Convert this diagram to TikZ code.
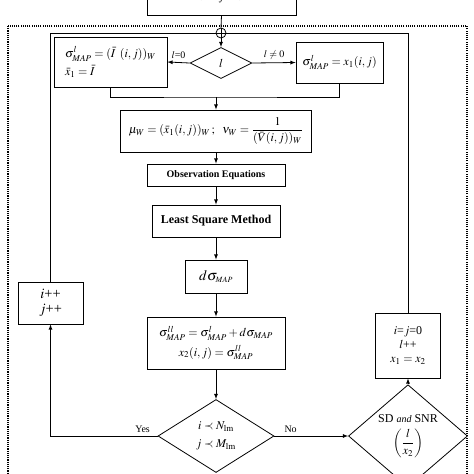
\documentclass[tikz,border=0pt]{standalone}
\usepackage{amsmath}
\usepackage{mathptmx}
\usepackage{fontspec}
\setmainfont{Liberation Serif}
\usepackage{tikz}
\usetikzlibrary{shapes.geometric}
\usetikzlibrary{positioning}
\tikzset{
  Kasten/.style={draw,thick,rectangle,align=center,inner sep=1pt,font=\large}, % Rechtecke
  Raute/.style={draw,thick,diamond,align=center,inner sep=0pt,font=\large}, % Abfragen
  Linie/.style={thick}, % Leitungen ohne Spitze
  Pfeil/.style={thick,->} % Leitungen mit Spitze
}

\begin{document}
\begin{tikzpicture}[
x=1pt,y=-1pt,
font=\rmfamily\upshape,
>=latex % Pfeilspitzen
]
\useasboundingbox (0,0) rectangle (474,474);
\clip (0,0) rectangle (474,474);

%Rahmen
\draw[line width=1.1pt,dash pattern=on 1.1pt off 1.1pt] (8,26) rectangle (467,500);

%Kästen
\node[Kasten,minimum width=149pt,minimum height=34pt] (Start) at (221.5,-2) {$i$ \quad $j$ \quad $l$};
\node[circle,draw,thick,minimum size=10pt,inner sep=0pt] (Summe) at (221,33) {};
\node[Raute,minimum width=62pt,minimum height=31pt] (L) at (221,63) {$l$};
\node[Kasten,minimum width=113pt,minimum height=50pt,align=left] (Init) at (110.5,62)
  {$\sigma^{l}_{MAP}=(\bar{I}\ \,(i,j))_W$\\[4pt] $\bar{x}_1=\bar{I}$};
\node[Kasten,minimum width=87pt,minimum height=41pt] (Alt) at (339.5,62.5) {$\sigma^{l}_{MAP}=x_1(i,j)$};
\node[Kasten,minimum width=191pt,minimum height=42pt] (Mittel) at (216,131)
  {$\mu_W=(\bar{x}_1(i,j))_W\,;\ \ \nu_W=\dfrac{1}{(\bar{V}(i,j))_W}$};
\node[Kasten,minimum width=138pt,minimum height=22pt,font=\normalsize\bfseries] (Beob) at (216,175) {Observation Equations};
\node[Kasten,minimum width=128pt,minimum height=32pt,font=\large\bfseries] (LSM) at (216,221) {Least Square Method};
\node[Kasten,minimum width=62pt,minimum height=33pt,font=\Large] (dSigma) at (216,276.5) {$d\sigma_{\scriptscriptstyle MAP}$};
\node[Kasten,minimum width=138pt,minimum height=52pt] (Neu) at (216,343)
  {$\sigma^{ll}_{MAP}=\sigma^{l}_{MAP}+d\sigma_{MAP}$\\[4pt] $x_2(i,j)=\sigma^{ll}_{MAP}$};
\node[Raute,minimum width=116pt,minimum height=73pt] (Grenze) at (216,436)
  {$i\prec N_{\mathrm{lm}}$\\[4pt] $j\prec M_{\mathrm{lm}}$};
\node[Raute,minimum width=119pt,minimum height=73pt] (SNR) at (408,436)
  {SD {\normalsize\itshape and} SNR\\[5pt] $\left(\dfrac{l}{x_2}\right)$};
\node[Kasten,minimum width=65pt,minimum height=42pt,font=\Large] (Inkr) at (50.5,303) {$i$++\\[-3pt] $j$++};
\node[Kasten,minimum width=65pt,minimum height=65pt] (Reset) at (408,345.5)
  {$i$=$j$=0\\ $l$++\\ $x_1=x_2$};
\coordinate (Knoten) at (216,97);

%Summenpunkt
\draw[Linie] (Summe.north) -- (Summe.south) (Summe.west) -- (Summe.east);

%Leitungen
\draw[Linie] (Start.south) -- (Summe.north);
\draw[Pfeil] (Summe.south) -- (L.north);
\draw[Pfeil] (L.west) -- node[above]{$l$=0} (Init.east);
\draw[Pfeil] (L.east) -- node[above]{$l\neq0$} (Alt.west);
\draw[Linie] (Init.south) |- (Knoten) -| (Alt.south);
\draw[Pfeil] (Knoten) -- (Mittel.north);
\draw[Pfeil] (Mittel) -- (Beob);
\draw[Pfeil] (Beob) -- (LSM);
\draw[Pfeil] (LSM) -- (dSigma);
\draw[Pfeil] (dSigma) -- (Neu);
\draw[Pfeil] (Neu) -- (Grenze);
\draw[Pfeil] (Grenze.west) -| node[pos=0.07,above]{Yes} (Inkr.south);
\draw[Pfeil] (Grenze.east) -- node[pos=0.22,above]{No} (SNR.west);
\draw[Pfeil] (SNR.north) -- (Reset.south);
\draw[Linie] (Inkr.north) |- (Summe.west);
\draw[Linie] (Reset.north) |- (Summe.east);

\end{tikzpicture}
\end{document}
